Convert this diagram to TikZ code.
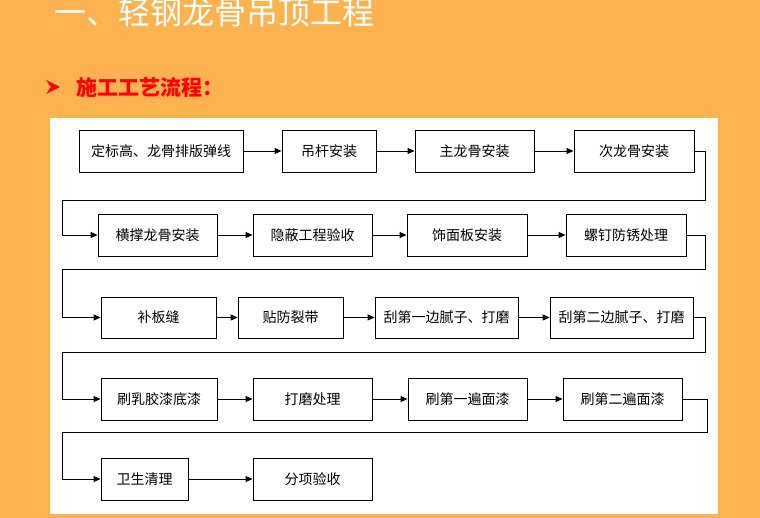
\documentclass[tikz,border=0pt]{standalone}
\usepackage{fontspec}
\newfontfamily\cjk{Noto Sans CJK SC}
\usetikzlibrary{arrows.meta}
\begin{document}
\begin{tikzpicture}[x=1pt,y=-1pt,
  bx/.style={draw,line width=0.9pt,fill=white,font=\cjk\fontsize{14}{14}\selectfont,inner sep=0pt},
  ar/.style={line width=0.9pt,-{Triangle[length=7pt,width=6pt]}},
  ln/.style={line width=0.9pt}]
\definecolor{bg}{HTML}{FBB24F}
\fill[bg] (0,0) rectangle (760,518);
\useasboundingbox (0,0) rectangle (760,518);
\fill[white] (50,118) rectangle (718,514);
\node[anchor=west,text=white,font=\cjk\fontsize{32}{32}\selectfont,inner sep=0pt] (t) at (54,12) {一、轻钢龙骨吊顶工程};
\node[anchor=west,text=red,font=\cjk\bfseries\fontsize{21}{21}\selectfont,inner sep=0pt] (s) at (76,87) {施工工艺流程：};
\fill[red] (46,80) -- (60,87) -- (46,94) -- (51,87) -- cycle;
\newcommand\bxx[6]{\node[bx,minimum width=#3-#2,minimum height=#5-#4] (#1) at ({(#2+#3)/2},{(#4+#5)/2}) {#6};}
\bxx{a1}{79}{243}{130}{172}{定标高、龙骨排版弹线}
\bxx{a2}{282}{376}{130}{172}{吊杆安装}
\bxx{a3}{415}{534}{130}{172}{主龙骨安装}
\bxx{a4}{574}{694}{130}{172}{次龙骨安装}
\bxx{b1}{98}{217}{214}{256}{横撑龙骨安装}
\bxx{b2}{253}{372}{214}{256}{隐蔽工程验收}
\bxx{b3}{407}{527}{214}{256}{饰面板安装}
\bxx{b4}{566}{686}{214}{256}{螺钉防锈处理}
\bxx{c1}{101}{216}{297}{338}{补板缝}
\bxx{c2}{238}{343}{297}{338}{贴防裂带}
\bxx{c3}{375}{518}{297}{338}{刮第一边腻子、打磨}
\bxx{c4}{550}{693}{297}{338}{刮第二边腻子、打磨}
\bxx{d1}{101}{217}{378}{420}{刷乳胶漆底漆}
\bxx{d2}{253}{372}{378}{420}{打磨处理}
\bxx{d3}{408}{527}{378}{420}{刷第一遍面漆}
\bxx{d4}{563}{682}{378}{420}{刷第二遍面漆}
\bxx{e1}{101}{188}{458}{500}{卫生清理}
\bxx{e2}{253}{372}{458}{500}{分项验收}
\foreach \r in {a,b,c,d}{
  \draw[ar] (\r1) -- (\r2); \draw[ar] (\r2) -- (\r3); \draw[ar] (\r3) -- (\r4);}
\draw[ar] (e1) -- (e2);
\draw[ar] (a4.east) -- ++(11,0) |- (62,200) |- (b1.west);
\draw[ar] (b4.east) -- ++(19,0) |- (62,269) |- (c1.west);
\draw[ar] (c4.east) -- ++(12,0) |- (62,352) |- (d1.west);
\draw[ar] (d4.east) -- ++(25,0) |- (62,432) |- (e1.west);
\end{tikzpicture}
\end{document}
